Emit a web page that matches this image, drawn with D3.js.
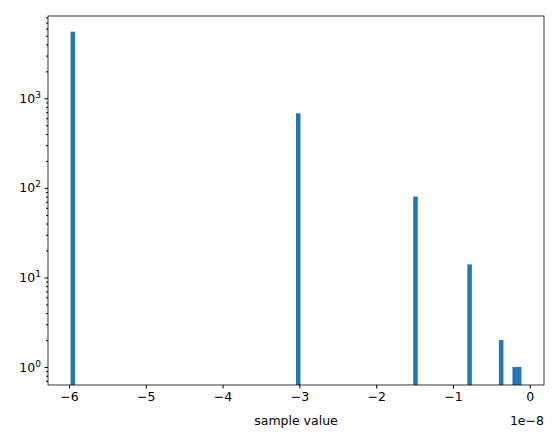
<!doctype html>
<html>
<head>
<meta charset="UTF-8">
<script src="https://d3js.org/d3.v7.min.js"></script>
<style>
body { margin:0; background:#fff; }
text { font-family: "DejaVu Sans", sans-serif; }
</style>
</head>
<body>
<script>
// histogram: 100 bins between binMin and binMax (units of 1e-8)
var binMin = -5.98, binMax = -0.108, nBins = 100;
var binIndex = [0, 50, 76, 88, 95, 98, 99];
var counts   = [5550, 680, 80, 14, 2, 1, 1];
var xTicks = [-6, -5, -4, -3, -2, -1, 0];
var yTicks = [1, 10, 100, 1000];

var W = 556, H = 434;
var m = {left:48, right:12, top:16, bottom:49};
var bw = (binMax - binMin) / nBins;
var pad = (binMax - binMin) * 0.05;

var x = d3.scaleLinear().domain([binMin - pad, binMax + pad]).range([m.left, W - m.right]);
var y = d3.scaleLog().domain([0.63, 8300]).range([H - m.bottom, m.top]);

var svg = d3.select("body").append("svg").attr("width", W).attr("height", H);

svg.selectAll("rect.bar").data(binIndex).enter().append("rect")
    .attr("class", "bar")
    .attr("x", function(d){ return x(binMin + d * bw); })
    .attr("width", function(d){ return x(binMin + (d + 1) * bw) - x(binMin + d * bw); })
    .attr("y", function(d, i){ return y(counts[i]); })
    .attr("height", function(d, i){ return y(0.63) - y(counts[i]); })
    .attr("fill", "#1f77b4");

// x axis
var xAxis = svg.append("g").attr("transform", "translate(0," + (H - m.bottom) + ")")
    .call(d3.axisBottom(x).tickValues(xTicks).tickSize(3.5).tickPadding(3.5)
        .tickFormat(function(d){ return String(d).replace("-", "\u2212"); }));
xAxis.select(".domain").remove();
xAxis.selectAll("text").attr("font-size", 12.5).attr("fill", "#000").attr("font-family", "DejaVu Sans");

// y axis (minor + major ticks)
var minor = y.ticks().filter(function(d){ return yTicks.indexOf(d) < 0; });
var yMinor = svg.append("g").attr("transform", "translate(" + m.left + ",0)")
    .call(d3.axisLeft(y).tickValues(minor).tickSize(2).tickFormat(""));
yMinor.select(".domain").remove();
var yMajor = svg.append("g").attr("transform", "translate(" + m.left + ",0)")
    .call(d3.axisLeft(y).tickValues(yTicks).tickSize(3.5).tickFormat(""));
yMajor.select(".domain").remove();
yTicks.forEach(function(t){
    var tx = svg.append("text").attr("x", m.left - 7).attr("y", y(t) + 4.5)
        .attr("text-anchor", "end").attr("font-size", 12.5).attr("fill", "#000");
    tx.append("tspan").text("10");
    tx.append("tspan").attr("dy", -5).attr("font-size", 9).text(Math.round(Math.log10(t)));
});

svg.append("rect").attr("x", m.left).attr("y", m.top)
    .attr("width", W - m.left - m.right).attr("height", H - m.top - m.bottom)
    .attr("fill", "none").attr("stroke", "#000").attr("stroke-width", 0.8);

svg.append("text").attr("x", (m.left + W - m.right) / 2).attr("y", 425)
    .attr("text-anchor", "middle").attr("font-size", 12.5).text("sample value");
svg.append("text").attr("x", W - m.right).attr("y", 425)
    .attr("text-anchor", "end").attr("font-size", 12.5).text("1e\u22128");
</script>
</body>
</html>
